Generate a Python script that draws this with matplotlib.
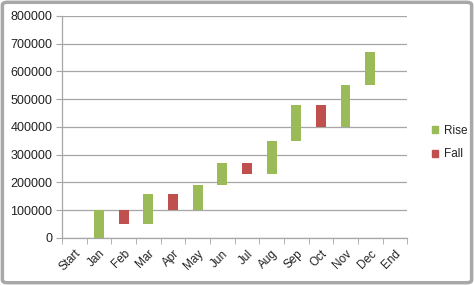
import numpy as np
import matplotlib
matplotlib.use("Agg")
import matplotlib.pyplot as plt
from matplotlib.patches import FancyBboxPatch, Patch

categories = ["Start", "Jan", "Feb", "Mar", "Apr", "May", "Jun", "Jul",
              "Aug", "Sep", "Oct", "Nov", "Dec", "End"]
# floating bars: (low, high) per category; 0 height for empty ones
rise_low = [0, 0, 0, 50000, 0, 100000, 190000, 0, 230000, 350000, 0, 400000, 550000, 0]
rise_high = [0, 100000, 0, 160000, 0, 190000, 270000, 0, 350000, 480000, 0, 550000, 670000, 0]
fall_low = [0, 0, 50000, 0, 100000, 0, 0, 230000, 0, 0, 400000, 0, 0, 0]
fall_high = [0, 0, 100000, 0, 160000, 0, 0, 270000, 0, 0, 480000, 0, 0, 0]

GREEN = "#9BBB59"
RED = "#C0504D"
GRID = "#a6a6a6"
TEXT = "#222222"

plt.rcParams["font.family"] = ["Liberation Sans", "DejaVu Sans"]

fig = plt.figure(figsize=(4.74, 2.85), dpi=100)
ax = fig.add_axes([0.131, 0.165, 0.728, 0.779])

x = np.arange(len(categories))
rl, rh = np.array(rise_low), np.array(rise_high)
fl, fh = np.array(fall_low), np.array(fall_high)
ax.bar(x, rh - rl, bottom=rl, width=0.4, color=GREEN, zorder=3)
ax.bar(x, fh - fl, bottom=fl, width=0.4, color=RED, zorder=3)

ax.set_xlim(-0.5, len(categories) - 0.5)
ax.set_ylim(0, 800000)
ax.set_yticks(np.arange(0, 800001, 100000))
ax.yaxis.grid(True, color=GRID, lw=0.9)
ax.set_axisbelow(True)
ax.set_xticks(x)
ax.set_xticklabels(categories, rotation=45, ha="right", rotation_mode="anchor")
ax.set_xticks(np.arange(-0.5, len(categories)), minor=True)
ax.tick_params(axis="x", which="major", length=0, pad=7, labelsize=8.5, labelcolor=TEXT)
ax.tick_params(axis="x", which="minor", length=4, color=GRID, direction="out")
ax.tick_params(axis="y", length=4, color=GRID, labelsize=9, labelcolor=TEXT, pad=3)
for s in ["top", "right"]:
    ax.spines[s].set_visible(False)
for s in ["left", "bottom"]:
    ax.spines[s].set_color(GRID)
    ax.spines[s].set_linewidth(0.9)

handles = [Patch(color=GREEN, label="Rise"), Patch(color=RED, label="Fall")]
fig.legend(handles=handles, loc="center left", bbox_to_anchor=(0.888, 0.5),
           frameon=False, fontsize=8.5, handlelength=0.55, handleheight=0.55,
           handletextpad=0.5, labelspacing=1.0, labelcolor=TEXT)

border = FancyBboxPatch((0.005, 0.008), 0.99, 0.984, boxstyle="round,pad=0,rounding_size=0.01",
                        transform=fig.transFigure, fill=False, ec="#a8a8a8", lw=2.5)
fig.patches.append(border)

fig.savefig("out.png", dpi=100)
